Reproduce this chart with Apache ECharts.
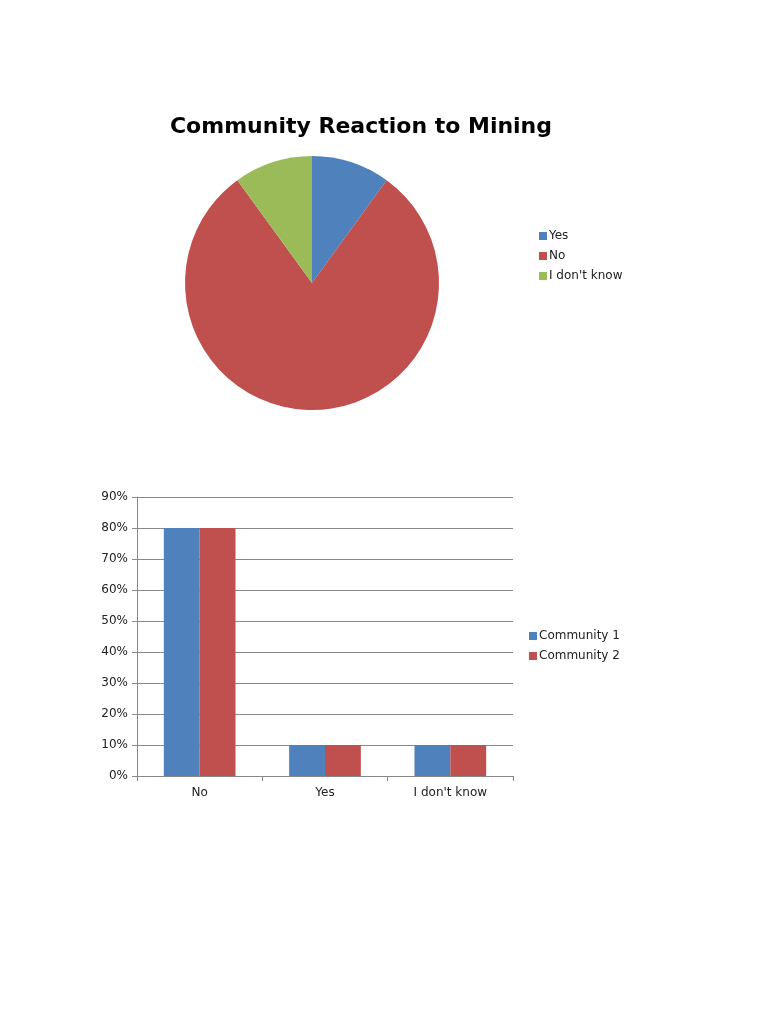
<!DOCTYPE html>
<html>
<head>
    <meta charset="utf-8">
    <title>Community Reaction to Mining</title>
    <script src="https://cdn.jsdelivr.net/npm/echarts@6/dist/echarts.min.js"></script>
    <style>
        body { margin: 0; background: #fff; }
    </style>
</head>
<body>
<div id="main" style="width: 768px;height:1024px;"></div>
<script type="text/javascript">
    // pie data
    var pieNames = ['Yes', 'No', "I don't know"];
    var pieValues = [10, 80, 10];

    // bar data
    var barCategories = ['No', 'Yes', "I don't know"];
    var community1 = [80, 10, 10];
    var community2 = [80, 10, 10];

    var colors = ['#4F81BD', '#C0504D', '#9BBB59'];
    var font = 'DejaVu Sans';

    var myChart = echarts.init(document.getElementById('main'));

    var option = {
        animation: false,
        backgroundColor: '#fff',
        title: {
            text: 'Community Reaction to Mining',
            left: 356,
            top: 111,
            textAlign: 'center',
            textStyle: { fontFamily: font, fontSize: 22, fontWeight: 'bold', color: '#000' }
        },
        legend: [{
            data: pieNames,
            orient: 'vertical',
            left: 534,
            top: 225,
            itemWidth: 8,
            itemHeight: 8,
            itemGap: 8,
            icon: 'rect',
            textStyle: { fontFamily: font, fontSize: 12, color: '#222', padding: [0, 0, 0, -3] }
        }, {
            data: ['Community 1', 'Community 2'],
            orient: 'vertical',
            left: 524,
            top: 625,
            itemWidth: 8,
            itemHeight: 8,
            itemGap: 8,
            icon: 'rect',
            textStyle: { fontFamily: font, fontSize: 12, color: '#222', padding: [0, 0, 0, -3] }
        }],
        grid: {
            left: 137,
            top: 497,
            width: 376,
            height: 279
        },
        xAxis: {
            type: 'category',
            data: barCategories,
            axisLine: { lineStyle: { color: '#888' } },
            axisTick: { show: true, length: 5, lineStyle: { color: '#888' } },
            axisLabel: { fontFamily: font, fontSize: 12, color: '#222', margin: 11 }
        },
        yAxis: {
            type: 'value',
            min: 0,
            max: 90,
            interval: 10,
            axisLine: { show: true, lineStyle: { color: '#888' } },
            axisTick: { show: true, length: 5, lineStyle: { color: '#888' } },
            axisLabel: {
                fontFamily: font, fontSize: 12, color: '#222', margin: 9,
                formatter: function (v) { return v + '%'; }
            },
            splitLine: { lineStyle: { color: '#888' } }
        },
        series: [{
            type: 'pie',
            name: 'Reaction',
            center: [312, 283],
            radius: 127,
            startAngle: 90,
            clockwise: true,
            label: { show: false },
            labelLine: { show: false },
            color: colors,
            data: pieNames.map(function (n, i) {
                return { name: n, value: pieValues[i], itemStyle: { color: colors[i] } };
            })
        }, {
            type: 'bar',
            name: 'Community 1',
            data: community1,
            barWidth: '28.6%',
            barGap: 0,
            itemStyle: { color: colors[0] }
        }, {
            type: 'bar',
            name: 'Community 2',
            data: community2,
            barWidth: '28.6%',
            barGap: 0,
            itemStyle: { color: colors[1] }
        }]
    };

    myChart.setOption(option);
</script>
</body>
</html>
